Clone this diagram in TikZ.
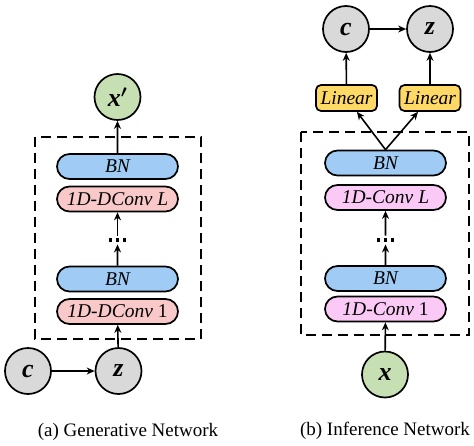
\documentclass[tikz,border=0pt]{standalone}
\usepackage{fontspec}
\setmainfont{Liberation Serif}
\usetikzlibrary{arrows.meta,shapes.misc}
\definecolor{cgreen}{HTML}{C6E0B4}
\definecolor{cgray}{HTML}{D9D9D9}
\definecolor{cblue}{HTML}{9FCBF4}
\definecolor{cpink}{HTML}{F9C9C9}
\definecolor{cviolet}{HTML}{FBC9F6}
\definecolor{cyellow}{HTML}{FFD966}
\begin{document}
\begin{tikzpicture}[x=1pt,y=-1pt,
  var/.style={circle, draw, line width=1.7pt, minimum size=46pt, inner sep=0pt,
    font=\fontsize{26}{28}\selectfont\bfseries\itshape},
  layer/.style={rounded rectangle, draw, line width=1.7pt, minimum width=121pt,
    minimum height=25pt, inner sep=0pt, font=\fontsize{19.5}{22}\selectfont\itshape},
  lin/.style={rectangle, rounded corners=5pt, draw, fill=cyellow, line width=1.7pt,
    minimum width=61pt, minimum height=26pt, inner sep=0pt,
    font=\fontsize{19.5}{22}\selectfont\itshape},
  arr/.style={-{Stealth[length=8pt,width=7pt]}, line width=1.6pt},
  frame/.style={draw, line width=1.9pt, dash pattern=on 10pt off 6pt},
  dotsnode/.style={inner sep=2.5pt},
  captext/.style={font=\fontsize{19}{22}\selectfont}
]
\useasboundingbox (0,0) rectangle (474,445);
\newcommand{\mydots}{\rule{3.5pt}{3.5pt}\hspace{3.5pt}\rule{3.5pt}{3.5pt}\hspace{3.5pt}\rule{3.5pt}{3.5pt}}

% ---------- (a) Generative Network ----------
\draw[frame] (35,137) rectangle (201,339);
\node[var, fill=cgreen] (xp) at (117.5,97) {x{\boldmath$'$}};
\node[layer, fill=cblue] (bnL) at (117.5,166.5) {BN};
\node[layer, fill=cpink] (dcL) at (117.5,199) {1D-DConv L};
\node[dotsnode] (dotsA) at (117.5,240) {\mydots};
\node[layer, fill=cblue] (bn1) at (117.5,279) {BN};
\node[layer, fill=cpink] (dc1) at (117.5,311.5) {1D-DConv \textup{1}};
\node[var, fill=cgray] (cA) at (28,371) {c};
\node[var, fill=cgray] (zA) at (118.5,371) {z};
\node[captext] (capA) at (128,432) {(a) Generative Network};

\draw[arr] (cA) -- (zA);
\draw[arr] (zA) -- (dc1);
\draw[arr] (bn1) -- (dotsA);
\draw[arr] (dotsA) -- (dcL);
\draw[arr] (bnL) -- (xp);

% ---------- (b) Inference Network ----------
\draw[frame] (301,132) rectangle (469,335);
\node[var, fill=cgray] (cB) at (346,29) {c};
\node[var, fill=cgray] (zB) at (430,29) {z};
\node[lin] (linC) at (346.5,98) {Linear};
\node[lin] (linZ) at (430,98) {Linear};
\node[layer, fill=cblue] (bnLB) at (385.5,163) {BN};
\node[layer, fill=cviolet] (cvL) at (385.5,197.5) {1D-Conv L};
\node[dotsnode] (dotsB) at (385.5,240) {\mydots};
\node[layer, fill=cblue] (bn1B) at (385.5,278.5) {BN};
\node[layer, fill=cviolet] (cv1B) at (385.5,309) {1D-Conv \textup{1}};
\node[var, fill=cgreen] (xB) at (385,374.5) {x};
\node[captext] (capB) at (385,431) {(b) Inference Network};

\draw[arr] (xB) -- (cv1B);
\draw[arr] (bn1B) -- (dotsB);
\draw[arr] (dotsB) -- (cvL);
\draw[arr] (bnLB.north) -- (linC);
\draw[arr] (bnLB.north) -- (linZ);
\draw[arr] (linC) -- (cB);
\draw[arr] (linZ) -- (zB);
\draw[arr] (cB) -- (zB);
\end{tikzpicture}
\end{document}
